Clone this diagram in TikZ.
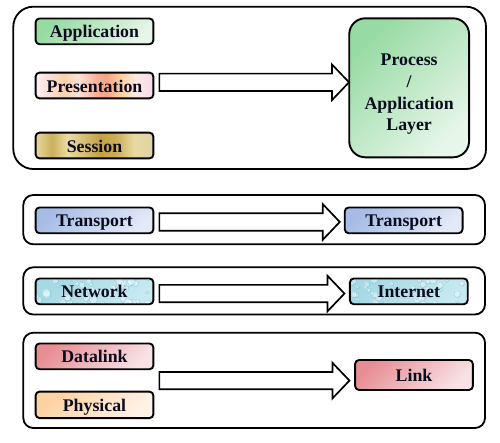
\documentclass[tikz,border=0pt]{standalone}
\usepackage{fontspec}
\setmainfont{Liberation Serif}
\usetikzlibrary{calc}
\definecolor{txt}{HTML}{0B0B1E}
\definecolor{gr1}{HTML}{97DAA3}
\definecolor{gr2}{HTML}{E6F6E9}
\definecolor{bl1}{HTML}{A6BCE6}
\definecolor{bl2}{HTML}{E2E9F7}
\definecolor{rd1}{HTML}{E78E94}
\definecolor{rd2}{HTML}{F8E2E5}
\definecolor{ph1}{HTML}{FDD2A3}
\definecolor{ph2}{HTML}{FFF2E6}
\definecolor{wt1}{HTML}{A6D9E4}
\definecolor{wt2}{HTML}{C6EAF1}
\definecolor{wtd}{HTML}{6FB8CA}
% presentation stops
\definecolor{pr0}{HTML}{FDF0F6}
\definecolor{pr1}{HTML}{FDE2D8}
\definecolor{pr2}{HTML}{FBCFAA}
\definecolor{pr3}{HTML}{FCE3D8}
\definecolor{pr4}{HTML}{F8B096}
\definecolor{pr5}{HTML}{F6A486}
\definecolor{pr6}{HTML}{FCCFA0}
\definecolor{pr7}{HTML}{FDEAE2}
\definecolor{pr8}{HTML}{F7D8EC}
% gold stops
\definecolor{go0}{HTML}{E6D8A2}
\definecolor{go1}{HTML}{CBB05A}
\definecolor{go2}{HTML}{EBDCA5}
\definecolor{go3}{HTML}{D8C07A}
\definecolor{go4}{HTML}{C4A242}
\definecolor{go5}{HTML}{CDAD55}
\definecolor{go6}{HTML}{E9D9A4}
\definecolor{go7}{HTML}{DED2A8}
% stops: fraction f of the node width sits at 25bp + 50bp*f
\pgfdeclarehorizontalshading{presshade}{100bp}{color(0bp)=(pr0); color(25bp)=(pr0); color(30bp)=(pr1); color(37bp)=(pr2); color(43bp)=(pr3); color(51bp)=(pr4); color(55bp)=(pr5); color(61bp)=(pr6); color(67.5bp)=(pr7); color(75bp)=(pr8); color(100bp)=(pr8)}
\pgfdeclarehorizontalshading{goldshade}{100bp}{color(0bp)=(go0); color(25bp)=(go0); color(32bp)=(go1); color(38.5bp)=(go2); color(45bp)=(go3); color(52.5bp)=(go4); color(59bp)=(go5); color(67bp)=(go6); color(75bp)=(go7); color(100bp)=(go7)}
\tikzset{
  grp/.style={draw=black, line width=1.8pt, fill=white, rectangle, inner sep=0pt},
  laytext/.style={text=txt, font=\fontsize{17.8}{21.7}\selectfont\bfseries},
  lay/.style={draw=black, line width=1.9pt, rounded corners=4pt, inner sep=0pt,
    minimum width=117.8pt, minimum height=25.8pt, text height=16.8pt, text depth=3.6pt, laytext},
  diag/.style 2 args={shading=axis, top color=#1, bottom color=#2, shading angle=45},
  water/.style={shading=axis, top color=wt1, bottom color=wt2, shading angle=45,
    path picture={
      \coordinate (sw) at (path picture bounding box.south west);
      \pgfmathsetseed{#1}
      \foreach \i in {1,...,46}{
        \pgfmathsetmacro\xx{122*rnd}
        \pgfmathsetmacro\yy{30*rnd}
        \pgfmathsetmacro\rr{1+3.4*rnd}
        \fill[white, opacity=0.4] ($(sw)+(\xx,-\yy)$) circle[radius=\rr pt];
        \draw[wtd, opacity=0.5, line width=0.45pt] ($(sw)+(\xx+0.5,-\yy+0.5)$) circle[radius=\rr pt];
      }}},
  barrow/.style={draw=black, fill=white, line width=1.7pt, line join=miter}
}
\newcommand\blockarr[2]{%
  \draw[barrow] ($(#1)+(0,-8.7)$) -- ($(#2)+(-17,-8.7)$) -- ($(#2)+(-17,-17.8)$)
    -- (#2) -- ($(#2)+(-17,17.8)$) -- ($(#2)+(-17,8.7)$) -- ($(#1)+(0,8.7)$) -- cycle;}
\begin{document}
\begin{tikzpicture}[x=1pt, y=-1pt]
\useasboundingbox (0,0) rectangle (500,442);
% group boxes
\node[grp, rounded corners=20pt, minimum width=472.7pt, minimum height=162.3pt] (g1) at (249.65,87.85) {};
\node[grp, rounded corners=10pt, minimum width=461.7pt, minimum height=49.3pt] (g2) at (254.15,219.65) {};
\node[grp, rounded corners=10pt, minimum width=461.7pt, minimum height=47.2pt] (g3) at (254.15,290.9) {};
\node[grp, rounded corners=10pt, minimum width=461.7pt, minimum height=95.3pt] (g4) at (254.15,380.35) {};
% layer nodes
\node[lay, diag={gr1}{gr2}] (app) at (94.5,31.35) {Application};
\node[lay, shading=presshade] (pres) at (94.5,85.5) {Presentation};
\node[lay, shading=goldshade] (sess) at (94.5,145.5) {Session};
\node[lay, diag={gr1}{gr2}, rounded corners=16pt, minimum width=119.8pt, minimum height=139pt, text height=, text depth=] (proc) at (409.15,87.8) {};
\node[laytext, align=center, inner sep=0pt] (proclbl) at ([yshift=-6.5pt]proc.center) {Process\\/\\Application\\Layer};
\node[lay, diag={bl1}{bl2}] (tl) at (94.5,220.35) {Transport};
\node[lay, diag={bl1}{bl2}] (tr) at (403.65,220.35) {Transport};
\node[lay, water=3] (net) at (94.5,291.35) {Network};
\node[lay, water=11] (inet) at (408.8,291.35) {Internet};
\node[lay, diag={rd1}{rd2}] (dl) at (94.5,356.35) {Datalink};
\node[lay, diag={ph1}{ph2}, minimum height=26.5pt] (phy) at (94.5,404.85) {Physical};
\node[lay, diag={rd1}{rd2}, minimum height=30pt] (link) at (414,375) {Link};
% arrows
\coordinate (a1s) at ([xshift=5pt,yshift=3.2pt]pres.east);
\coordinate (a1t) at ([xshift=0.7pt]proc.west |- a1s);
\blockarr{a1s}{a1t}
\coordinate (a2s) at ([xshift=5pt,yshift=-1.6pt]tl.east);
\coordinate (a2t) at ([xshift=-4pt]tr.west |- a2s);
\blockarr{a2s}{a2t}
\coordinate (a3s) at ([xshift=5pt,yshift=-2.2pt]net.east);
\coordinate (a3t) at ([xshift=-4.5pt]inet.west |- a3s);
\blockarr{a3s}{a3t}
\coordinate (a4s) at ($(dl.east)!0.5!(phy.east)+(5,0)$);
\coordinate (a4t) at ([xshift=-4.7pt]link.west |- a4s);
\blockarr{a4s}{a4t}
\end{tikzpicture}
\end{document}
